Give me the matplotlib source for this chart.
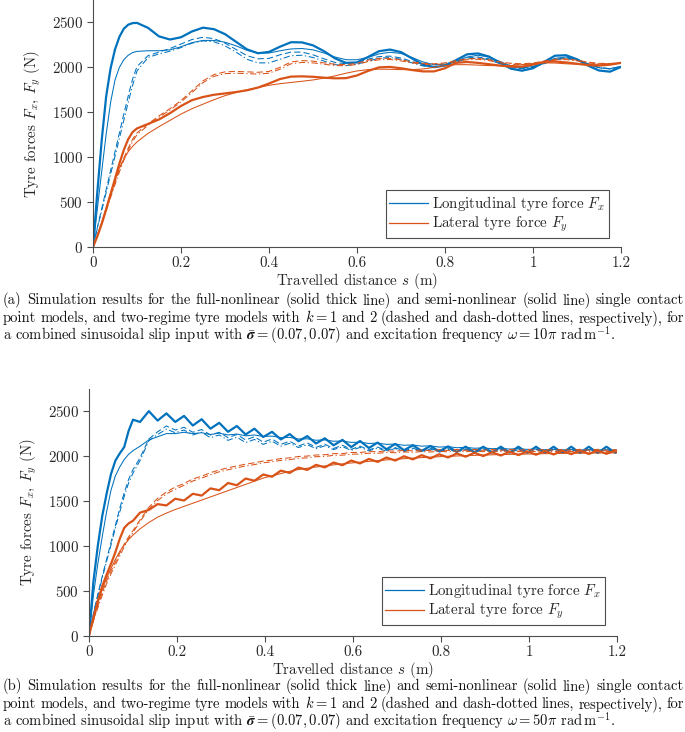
"""
Tyre force transients (Fx, Fy) vs travelled distance for two excitation
frequencies, with LaTeX-style captions underneath each panel.
"""
import matplotlib
matplotlib.use("Agg")
import matplotlib.pyplot as plt

plt.rcParams["font.family"] = "cmr10"
plt.rcParams["mathtext.fontset"] = "cm"
plt.rcParams["axes.unicode_minus"] = False
plt.rcParams["axes.formatter.use_mathtext"] = True

BLUE = "#0072BD"
ORANGE = "#D95319"

# ---- panel (a): omega = 10 pi -------------------------------------------
S_A = [0, 0.01, 0.02, 0.03, 0.04, 0.05, 0.06, 0.07, 0.08, 0.09, 0.10,
       0.125, 0.15, 0.175, 0.2, 0.225, 0.25, 0.275, 0.3, 0.325, 0.35, 0.375,
       0.4, 0.425, 0.45, 0.475, 0.5, 0.525, 0.55, 0.575, 0.6, 0.625, 0.65,
       0.675, 0.7, 0.725, 0.75, 0.775, 0.8, 0.825, 0.85, 0.875, 0.9, 0.925,
       0.95, 0.975, 1.0, 1.025, 1.05, 1.075, 1.1, 1.125, 1.15, 1.175, 1.2]

FX_FULL_A = [0, 620, 1200, 1680, 1990, 2200, 2340, 2430, 2475, 2493, 2495,
             2440, 2345, 2310, 2335, 2400, 2442, 2425, 2370, 2285, 2200, 2157,
             2172, 2230, 2280, 2278, 2245, 2180, 2100, 2050, 2055, 2115, 2180,
             2198, 2170, 2100, 2030, 2002, 2020, 2080, 2145, 2155, 2120, 2050,
             1985, 1963, 1990, 2060, 2130, 2135, 2090, 2020, 1965, 1952, 2005]
FX_SEMI_A = [0, 430, 850, 1260, 1610, 1860, 2000, 2085, 2135, 2165, 2178,
             2185, 2185, 2195, 2230, 2275, 2300, 2300, 2280, 2240, 2190, 2160,
             2160, 2185, 2205, 2210, 2195, 2160, 2115, 2085, 2085, 2110, 2150,
             2168, 2155, 2110, 2060, 2030, 2035, 2070, 2115, 2135, 2115, 2065,
             2015, 1995, 2010, 2055, 2100, 2115, 2090, 2040, 1995, 1985, 2010]
FX_K1_A = [0, 220, 430, 640, 850, 1060, 1270, 1480, 1680, 1870, 2010,
           2130, 2170, 2210, 2260, 2310, 2335, 2320, 2270, 2200, 2130, 2095,
           2100, 2140, 2170, 2170, 2140, 2095, 2055, 2040, 2055, 2090, 2120,
           2125, 2105, 2065, 2025, 2010, 2025, 2065, 2105, 2115, 2095, 2050,
           2005, 1990, 2005, 2045, 2090, 2105, 2085, 2040, 2000, 1985, 2010]
FX_K2_A = [0, 210, 410, 610, 810, 1010, 1210, 1410, 1610, 1800, 1960,
           2110, 2150, 2180, 2220, 2270, 2295, 2285, 2240, 2170, 2090, 2050,
           2050, 2090, 2130, 2135, 2110, 2070, 2030, 2020, 2035, 2070, 2100,
           2110, 2090, 2050, 2015, 2000, 2015, 2055, 2095, 2105, 2085, 2040,
           1998, 1985, 2000, 2040, 2085, 2098, 2078, 2035, 1995, 1982, 2005]
FY_FULL_A = [0, 120, 260, 420, 590, 760, 930, 1080, 1200, 1280, 1320,
             1370, 1420, 1490, 1570, 1635, 1670, 1695, 1710, 1725, 1745, 1775,
             1820, 1870, 1897, 1900, 1895, 1885, 1878, 1880, 1910, 1960, 2000,
             2005, 1990, 1970, 1955, 1955, 1990, 2050, 2060, 2050, 2035, 2020,
             2008, 2008, 2030, 2060, 2065, 2055, 2040, 2025, 2020, 2030, 2050]
FY_SEMI_A = [0, 130, 280, 440, 600, 750, 880, 980, 1060, 1120, 1170,
             1265, 1340, 1410, 1480, 1540, 1590, 1640, 1685, 1720, 1750, 1775,
             1800, 1818, 1832, 1845, 1860, 1880, 1905, 1935, 1960, 1975, 1980,
             1978, 1975, 1975, 1982, 2000, 2020, 2030, 2030, 2025, 2020, 2018,
             2020, 2030, 2042, 2050, 2048, 2040, 2035, 2033, 2035, 2042, 2050]
FY_K1_A = [0, 130, 270, 420, 570, 720, 860, 990, 1100, 1200, 1270,
           1370, 1460, 1540, 1630, 1740, 1850, 1920, 1950, 1955, 1950, 1945,
           1955, 2000, 2060, 2075, 2070, 2050, 2035, 2030, 2045, 2080, 2100,
           2100, 2085, 2060, 2045, 2040, 2050, 2075, 2095, 2100, 2085, 2060,
           2045, 2040, 2048, 2070, 2090, 2095, 2080, 2058, 2045, 2042, 2055]
FY_K2_A = [0, 125, 260, 405, 550, 695, 835, 965, 1075, 1175, 1250,
           1355, 1445, 1525, 1615, 1720, 1830, 1900, 1930, 1935, 1930, 1925,
           1935, 1980, 2040, 2055, 2050, 2035, 2020, 2018, 2032, 2065, 2085,
           2088, 2072, 2050, 2035, 2030, 2040, 2065, 2085, 2090, 2075, 2050,
           2035, 2032, 2040, 2062, 2082, 2087, 2072, 2050, 2038, 2036, 2048]

# ---- panel (b): omega = 50 pi -------------------------------------------
S_B = [0, 0.01, 0.02, 0.03, 0.04, 0.05, 0.06, 0.07, 0.08, 0.09, 0.10,
       0.116, 0.136, 0.156, 0.176, 0.196, 0.216, 0.236, 0.256,
       0.276, 0.296, 0.316, 0.336, 0.356, 0.376, 0.396, 0.416,
       0.436, 0.456, 0.476, 0.496, 0.516, 0.536, 0.556, 0.576,
       0.596, 0.616, 0.636, 0.656, 0.676, 0.696, 0.716, 0.736,
       0.756, 0.776, 0.796, 0.816, 0.836, 0.856, 0.876, 0.896,
       0.916, 0.936, 0.956, 0.976, 0.996, 1.016, 1.036, 1.056,
       1.076, 1.096, 1.116, 1.136, 1.156, 1.176, 1.196, 1.2]

FX_FULL_B = [0, 600, 1000, 1330, 1580, 1800, 1950, 2030, 2100, 2280, 2405,
             2380, 2500, 2395, 2475, 2380, 2447, 2340, 2410,
             2305, 2370, 2270, 2335, 2240, 2305, 2212, 2270,
             2185, 2245, 2165, 2222, 2140, 2198, 2120, 2180,
             2100, 2168, 2090, 2150, 2075, 2135, 2065, 2120,
             2058, 2112, 2052, 2108, 2046, 2105, 2042, 2104,
             2040, 2104, 2038, 2104, 2036, 2104, 2035, 2104,
             2034, 2104, 2034, 2104, 2034, 2104, 2036, 2045]
FX_SEMI_B = [0, 450, 800, 1100, 1380, 1620, 1780, 1880, 1960, 2020, 2060,
             2110, 2180, 2215, 2250, 2250, 2265, 2250, 2260,
             2240, 2255, 2235, 2245, 2225, 2235, 2218, 2222,
             2205, 2208, 2190, 2192, 2176, 2180, 2165, 2168,
             2152, 2155, 2140, 2145, 2130, 2134, 2120, 2124,
             2110, 2114, 2100, 2105, 2093, 2097, 2087, 2091,
             2082, 2086, 2078, 2082, 2074, 2078, 2071, 2075,
             2069, 2073, 2067, 2071, 2066, 2070, 2065, 2066]
FX_K1_B = [0, 250, 460, 660, 850, 1040, 1230, 1420, 1590, 1740, 1850,
           1980, 2190, 2270, 2335, 2290, 2320, 2265, 2295,
           2235, 2265, 2205, 2240, 2180, 2215, 2155, 2190,
           2130, 2165, 2112, 2147, 2097, 2132, 2085, 2120,
           2075, 2110, 2068, 2100, 2062, 2094, 2057, 2089,
           2054, 2086, 2051, 2083, 2049, 2081, 2047, 2079,
           2046, 2078, 2045, 2077, 2045, 2077, 2045, 2077,
           2045, 2077, 2045, 2077, 2045, 2077, 2047, 2052]
FX_K2_B = [0, 240, 440, 640, 830, 1010, 1200, 1380, 1550, 1700, 1810,
           1950, 2170, 2240, 2300, 2260, 2290, 2235, 2265,
           2205, 2235, 2175, 2210, 2150, 2185, 2130, 2165,
           2110, 2142, 2095, 2127, 2082, 2114, 2072, 2104,
           2064, 2096, 2058, 2090, 2053, 2085, 2049, 2081,
           2046, 2078, 2044, 2076, 2042, 2074, 2041, 2073,
           2040, 2072, 2040, 2072, 2040, 2072, 2040, 2072,
           2040, 2072, 2040, 2072, 2040, 2072, 2042, 2046]
FY_FULL_B = [0, 200, 390, 550, 680, 800, 930, 1080, 1200, 1250, 1280,
             1370, 1400, 1465, 1450, 1525, 1505, 1580, 1560,
             1640, 1620, 1700, 1675, 1750, 1725, 1795, 1770,
             1838, 1812, 1872, 1846, 1902, 1874, 1928, 1898,
             1950, 1918, 1968, 1935, 1984, 1950, 1998, 1963,
             2010, 1974, 2020, 1984, 2029, 1993, 2037, 2000,
             2043, 2006, 2048, 2011, 2052, 2015, 2056, 2018,
             2059, 2021, 2062, 2023, 2064, 2025, 2062, 2055]
FY_SEMI_B = [0, 190, 360, 510, 640, 750, 850, 940, 1010, 1070, 1120,
             1190, 1260, 1320, 1365, 1405, 1440, 1475, 1510,
             1545, 1580, 1615, 1650, 1685, 1720, 1755, 1780,
             1805, 1830, 1850, 1865, 1878, 1890, 1902, 1913,
             1923, 1932, 1941, 1949, 1957, 1964, 1971, 1977,
             1983, 1988, 1993, 1997, 2001, 2005, 2008, 2011,
             2014, 2017, 2019, 2021, 2023, 2025, 2027, 2028,
             2030, 2031, 2032, 2033, 2034, 2035, 2036, 2036]
FY_K1_B = [0, 170, 330, 480, 610, 720, 820, 920, 1020, 1100, 1170,
           1290, 1430, 1530, 1600, 1655, 1695, 1745, 1775,
           1815, 1845, 1870, 1890, 1910, 1925, 1945, 1955,
           1972, 1980, 1995, 2000, 2012, 2015, 2027, 2028,
           2040, 2040, 2050, 2048, 2058, 2054, 2064, 2058,
           2068, 2060, 2071, 2062, 2073, 2063, 2074, 2064,
           2075, 2064, 2075, 2064, 2075, 2064, 2075, 2064,
           2075, 2064, 2075, 2064, 2075, 2064, 2070, 2066]
FY_K2_B = [0, 160, 310, 450, 580, 690, 790, 890, 990, 1080, 1150,
           1270, 1410, 1505, 1580, 1630, 1675, 1722, 1755,
           1792, 1825, 1848, 1870, 1890, 1905, 1925, 1936,
           1952, 1960, 1975, 1980, 1993, 1996, 2008, 2010,
           2021, 2022, 2032, 2031, 2040, 2037, 2046, 2042,
           2050, 2045, 2053, 2047, 2055, 2048, 2056, 2049,
           2057, 2049, 2057, 2049, 2057, 2049, 2057, 2049,
           2057, 2049, 2057, 2049, 2057, 2049, 2054, 2052]

X_TICKS = [0, 0.2, 0.4, 0.6, 0.8, 1.0, 1.2]
X_TICK_LABELS = ["0", "0.2", "0.4", "0.6", "0.8", "1", "1.2"]
Y_TICKS = [0, 500, 1000, 1500, 2000, 2500]

CAPTION_A = [
    "(a) Simulation results for the full-nonlinear (solid thick line) and "
    "semi-nonlinear (solid line) single contact",
    "point models, and two-regime tyre models with $k=1$ and 2 (dashed and "
    "dash-dotted lines, respectively), for",
    r"a combined sinusoidal slip input with $\bar{\boldsymbol{\sigma}}=(0.07,0.07)$ "
    r"and excitation frequency $\omega=10\pi$ rad$\,$m$^{-1}$.",
]
CAPTION_B = [
    "(b) Simulation results for the full-nonlinear (solid thick line) and "
    "semi-nonlinear (solid line) single contact",
    "point models, and two-regime tyre models with $k=1$ and 2 (dashed and "
    "dash-dotted lines, respectively), for",
    r"a combined sinusoidal slip input with $\bar{\boldsymbol{\sigma}}=(0.07,0.07)$ "
    r"and excitation frequency $\omega=50\pi$ rad$\,$m$^{-1}$.",
]

W, H = 685, 732
FS = 10.8        # tick labels, axis labels, legend
FS_CAP = 10.5    # caption text


def draw_panel(ax, s, fx_full, fx_semi, fx_k1, fx_k2,
               fy_full, fy_semi, fy_k1, fy_k2, legend_anchor):
    thin, thick = 0.75, 1.6
    for color, semi, k1, k2, full in [
        (BLUE, fx_semi, fx_k1, fx_k2, fx_full),
        (ORANGE, fy_semi, fy_k1, fy_k2, fy_full),
    ]:
        ax.plot(s, semi, color=color, lw=thin)
        ax.plot(s, k1, color=color, lw=thin, dashes=(6, 3))
        ax.plot(s, k2, color=color, lw=thin, dashes=(6, 2.5, 1.2, 2.5))
        ax.plot(s, full, color=color, lw=thick, solid_joinstyle="round")

    ax.set_xlim(0, 1.2)
    ax.set_ylim(0, 2750)
    ax.set_xticks(X_TICKS, X_TICK_LABELS)
    ax.set_yticks(Y_TICKS)
    for side in ["top", "right"]:
        ax.spines[side].set_visible(False)
    for side in ["left", "bottom"]:
        ax.spines[side].set_color("#4d4d4d")
        ax.spines[side].set_linewidth(0.8)
    ax.tick_params(direction="out", length=4, width=0.8, color="#4d4d4d",
                   labelsize=FS, labelcolor="#262626", pad=3)
    ax.set_xlabel("Travelled distance $s$ (m)", fontsize=FS, color="#262626")
    ax.set_ylabel("Tyre forces $F_x$, $F_y$ (N)", fontsize=FS,
                  color="#262626")
    ax.xaxis.set_label_coords(0.5, -0.098)
    ax.yaxis.set_label_coords(-0.095, 0.5)

    h1, = ax.plot([], [], color=BLUE, lw=0.9)
    h2, = ax.plot([], [], color=ORANGE, lw=0.9)
    leg = ax.legend([h1, h2], ["Longitudinal tyre force $F_x$",
                               "Lateral tyre force $F_y$"],
                    loc="lower right", bbox_to_anchor=legend_anchor,
                    fontsize=FS, frameon=True, fancybox=False,
                    framealpha=1, edgecolor="#4d4d4d", handlelength=2.6,
                    handletextpad=0.25, labelspacing=0.12, borderpad=0.25,
                    borderaxespad=0)
    leg.get_frame().set_linewidth(0.8)
    for t in leg.get_texts():
        t.set_color("#262626")


def justified_line(fig, renderer, text, y_px, x0_px, x1_px):
    """Place the words of one caption line so it spans x0..x1 (LaTeX style)."""
    words = text.split(" ")
    objs = [fig.text(0, 1 - y_px / H, w, fontsize=FS_CAP, va="baseline",
                     ha="left", color="#111111") for w in words]
    widths = [o.get_window_extent(renderer).width for o in objs]
    gap = (x1_px - x0_px - sum(widths)) / (len(words) - 1)
    x = x0_px
    for o, w in zip(objs, widths):
        o.set_x(x / W)
        x += w + gap


def caption(fig, renderer, lines, baseline_first, step):
    for i, line in enumerate(lines):
        y = baseline_first + i * step
        if i < len(lines) - 1:
            justified_line(fig, renderer, line, y, 3, 684)
        else:
            fig.text(3 / W, 1 - y / H, line, fontsize=FS_CAP, va="baseline",
                     ha="left", color="#111111")


def main():
    fig = plt.figure(figsize=(W / 100, H / 100), dpi=100)
    ax_a = fig.add_axes([93 / W, 1 - 247 / H, 528 / W, 247 / H])
    ax_b = fig.add_axes([89 / W, 1 - 635.7 / H, 528 / W, 247 / H])

    draw_panel(ax_a, S_A, FX_FULL_A, FX_SEMI_A, FX_K1_A, FX_K2_A,
               FY_FULL_A, FY_SEMI_A, FY_K1_A, FY_K2_A, (0.977, 0.036))
    draw_panel(ax_b, S_B, FX_FULL_B, FX_SEMI_B, FX_K1_B, FX_K2_B,
               FY_FULL_B, FY_SEMI_B, FY_K1_B, FY_K2_B, (0.977, 0.043))

    renderer = fig.canvas.get_renderer()
    caption(fig, renderer, CAPTION_A, 304, 18)
    caption(fig, renderer, CAPTION_B, 690, 18)

    fig.savefig("out.png", dpi=100)
    plt.close(fig)


if __name__ == "__main__":
    main()
